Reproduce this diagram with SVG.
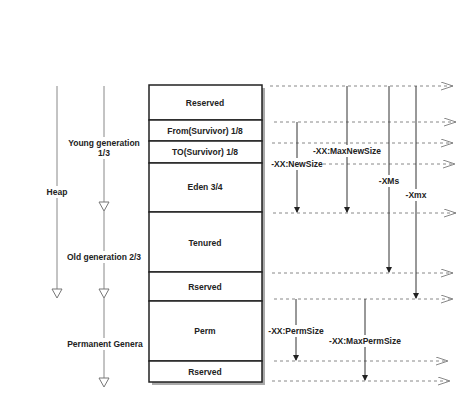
<svg xmlns="http://www.w3.org/2000/svg" width="474" height="406" viewBox="0 0 474 406">
<style>
text{font-family:"Liberation Sans",Arial,sans-serif;font-size:8.5px;font-weight:bold;fill:#222;text-anchor:middle}
.g{stroke:#888;stroke-width:1;fill:none}
.d{stroke:#888;stroke-width:1;stroke-dasharray:3 3;fill:none;marker-end:url(#open)}
.v{stroke:#333;stroke-width:1;fill:none;marker-end:url(#blk)}
.bg{fill:#fff}
.cell{fill:#fff;stroke:#222;stroke-width:1.5}
.tri{fill:#fff;stroke:#777;stroke-width:1}
</style>
<defs>
<marker id="open" markerUnits="userSpaceOnUse" markerWidth="14" markerHeight="10" refX="12" refY="4" orient="auto">
<path d="M0,0 L12,4 L0,8" fill="none" stroke="#888" stroke-width="1"/>
</marker>
<marker id="blk" markerUnits="userSpaceOnUse" markerWidth="8" markerHeight="8" refX="5" refY="3" orient="auto">
<path d="M0,0 L6,3 L0,6 Z" fill="#222"/>
</marker>
</defs>
<rect width="474" height="406" fill="#fff"/>

<g id="heap-axis">
<line class="g" x1="57" y1="86" x2="57" y2="290"/>
<polygon class="tri" points="52,289 62,289 57,298"/>
<rect class="bg" x="44" y="186" width="26" height="12"/>
<text x="57" y="195">Heap</text>
</g>
<g id="young-axis">
<line class="g" x1="104" y1="86" x2="104" y2="203"/>
<polygon class="tri" points="99,202 109,202 104,211"/>
<rect class="bg" x="66" y="137" width="76" height="22"/>
<text x="104" y="146">Young generation</text>
<text x="104" y="156">1/3</text>
</g>
<g id="old-axis">
<line class="g" x1="104" y1="211" x2="104" y2="290"/>
<polygon class="tri" points="99,289 109,289 104,298"/>
<rect class="bg" x="66" y="251" width="77" height="12"/>
<text x="104" y="260">Old generation 2/3</text>
</g>
<g id="perm-axis">
<line class="g" x1="104" y1="298" x2="104" y2="379"/>
<polygon class="tri" points="99,378 109,378 104,387"/>
<rect class="bg" x="66" y="338" width="78" height="12"/>
<text x="105" y="347">Permanent Genera</text>
</g>

<rect x="152" y="88" width="113" height="297" fill="#aaa"/>
<g id="reserved1"><rect class="cell" x="149" y="85" width="113" height="35"/><text x="205" y="106">Reserved</text></g>
<g id="from"><rect class="cell" x="149" y="120" width="113" height="21"/><text x="205" y="134">From(Survivor) 1/8</text></g>
<g id="to"><rect class="cell" x="149" y="141" width="113" height="22"/><text x="205" y="155">TO(Survivor) 1/8</text></g>
<g id="eden"><rect class="cell" x="149" y="163" width="113" height="49"/><text x="205" y="190">Eden 3/4</text></g>
<g id="tenured"><rect class="cell" x="149" y="212" width="113" height="60"/><text x="205" y="246">Tenured</text></g>
<g id="reserved2"><rect class="cell" x="149" y="272" width="113" height="29"/><text x="205" y="290">Rserved</text></g>
<g id="perm"><rect class="cell" x="149" y="301" width="113" height="60"/><text x="205" y="334">Perm</text></g>
<g id="reserved3"><rect class="cell" x="149" y="361" width="113" height="21"/><text x="205" y="375">Rserved</text></g>

<g id="connectors">
<line class="d" x1="270" y1="86" x2="453" y2="86"/>
<line class="d" x1="274" y1="122" x2="456" y2="122"/>
<line class="d" x1="272" y1="143" x2="453" y2="143"/>
<line class="d" x1="323" y1="164" x2="455" y2="164"/>
<line class="d" x1="273" y1="213" x2="456" y2="213"/>
<line class="d" x1="272" y1="273" x2="453" y2="273"/>
<line class="d" x1="274" y1="299" x2="453" y2="299"/>
<line class="d" x1="274" y1="361" x2="448" y2="361"/>
<line class="d" x1="272" y1="381" x2="450" y2="381"/>

<line class="v" x1="297" y1="122" x2="297" y2="212"/>
<line class="v" x1="347" y1="86" x2="347" y2="212"/>
<line class="v" x1="389" y1="86" x2="389" y2="272"/>
<line class="v" x1="416" y1="86" x2="416" y2="298"/>
<line class="v" x1="296" y1="299" x2="296" y2="360"/>
<line class="v" x1="365" y1="299" x2="365" y2="380"/>

<rect class="bg" x="271" y="158" width="52" height="12"/>
<text x="297" y="167">-XX:NewSize</text>
<rect class="bg" x="312" y="145" width="70" height="12"/>
<text x="347" y="154">-XX:MaxNewSize</text>
<rect class="bg" x="377" y="175" width="24" height="12"/>
<text x="389" y="184">-XMs</text>
<rect class="bg" x="404" y="189" width="24" height="12"/>
<text x="416" y="198">-Xmx</text>
<rect class="bg" x="268" y="325" width="56" height="12"/>
<text x="296" y="334">-XX:PermSize</text>
<rect class="bg" x="328" y="335" width="74" height="12"/>
<text x="365" y="344">-XX:MaxPermSize</text>
</g>
</svg>
